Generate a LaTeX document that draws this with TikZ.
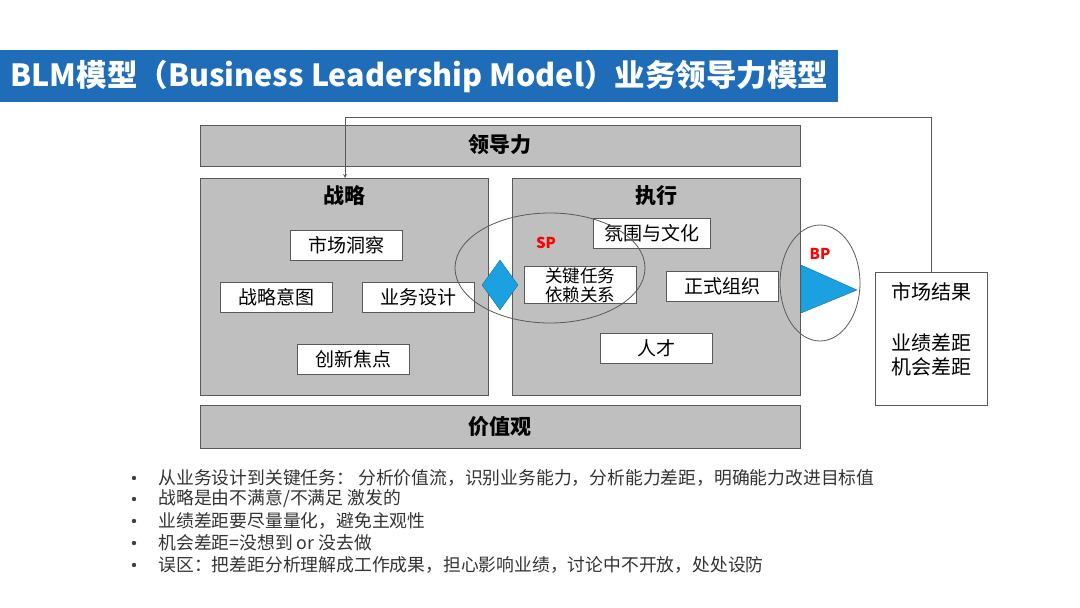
\documentclass[tikz,border=0pt]{standalone}
\usepackage{fontspec}
\setmainfont{Noto Sans CJK SC}
\usetikzlibrary{shapes.geometric}
\definecolor{tblue}{HTML}{1F6DB8}
\definecolor{gfill}{HTML}{BFBFBF}
\definecolor{gline}{HTML}{595959}
\definecolor{cyanb}{HTML}{1BA1E2}
\tikzset{
 panel/.style={draw=gline,fill=gfill,line width=0.8pt},
 wbox/.style={draw=gline,fill=white,line width=0.8pt,minimum width=112pt,minimum height=30pt,inner sep=1pt,font=\fontsize{19}{21}\selectfont,align=center},
 head/.style={font=\fontsize{21}{24}\selectfont\bfseries},
 bul/.style={anchor=west,font=\fontsize{17.8}{19}\selectfont,text=black!80},
}
\begin{document}
\begin{tikzpicture}[x=1pt,y=-1pt]
\useasboundingbox (0,0) rectangle (1080,608);
\fill[tblue] (0,50) rectangle (838,102);
\node[anchor=west,text=white,font=\fontsize{30.5}{32}\selectfont\bfseries] (title) at (7,76) {BLM模型（Business Leadership Model）业务领导力模型};
\draw[panel] (200,125) rectangle (800,166);
\node[head] (ldl) at (500,145) {领导力};
\draw[panel] (200,178) rectangle (488,395);
\node[head] (zl) at (344,196) {战略};
\coordinate (zltop) at (345,178);
\draw[panel] (512,178) rectangle (800,395);
\node[head] (zx) at (656,196) {执行};
\draw[panel] (200,405) rectangle (800,448);
\node[head] (jzg) at (500,427) {价值观};
\node[wbox] (a) at (346,245) {市场洞察};
\node[wbox] (b) at (276,297) {战略意图};
\node[wbox] (c) at (418,297) {业务设计};
\node[wbox] (d) at (353,359) {创新焦点};
\node[wbox,minimum width=117pt] (e) at (652,233) {氛围与文化};
\node[wbox,minimum height=34pt,font=\fontsize{17.5}{19}\selectfont] (f) at (580,285) {关键任务\\依赖关系};
\node[wbox] (g) at (722,286) {正式组织};
\node[wbox] (h) at (656,348) {人才};
\draw[gline,line width=0.8pt] (550,268) ellipse (95 and 55);
\node[text=red,font=\fontsize{15}{17}\selectfont\bfseries] (sp) at (546,243) {SP};
\node[diamond,fill=cyanb,draw=cyanb!70!black,minimum width=36pt,minimum height=50pt,inner sep=0pt] (dia) at (500,285) {};
\draw[gline,line width=0.8pt] (820,283) ellipse (40 and 58);
\node[text=red,font=\fontsize{15}{17}\selectfont\bfseries] (bp) at (820,254) {BP};
\fill[cyanb,draw=cyanb!70!black] (801,265) -- (857,290) -- (801,313) -- cycle;
\draw[gline,fill=white,line width=0.8pt] (875,272) rectangle (987,405);
\node[font=\fontsize{20}{23}\selectfont] (sc) at (931,292) {市场结果};
\node[font=\fontsize{20}{24}\selectfont,align=center] (gap) at (931,355) {业绩差距\\机会差距};
\coordinate (fbs) at (931,272);
\draw[gline,line width=0.8pt,-stealth] (fbs) -- (931,117) -- (345,117) -- (zltop);
\foreach \y/\t in {478/{从业务设计到关键任务：\ 分析价值流，识别业务能力，分析能力差距，明确能力改进目标值},
 499/{战略是由不满意/不满足 激发的},
 521/{业绩差距要尽量量化，避免主观性},
 543/{机会差距=没想到 or 没去做},
 565/{误区：把差距分析理解成工作成果，担心影响业绩，讨论中不开放，处处设防}}{
 \fill[black!75] (134,\y) circle (2.2);
 \node[bul] at (155,\y) {\t};
}
\end{tikzpicture}
\end{document}
